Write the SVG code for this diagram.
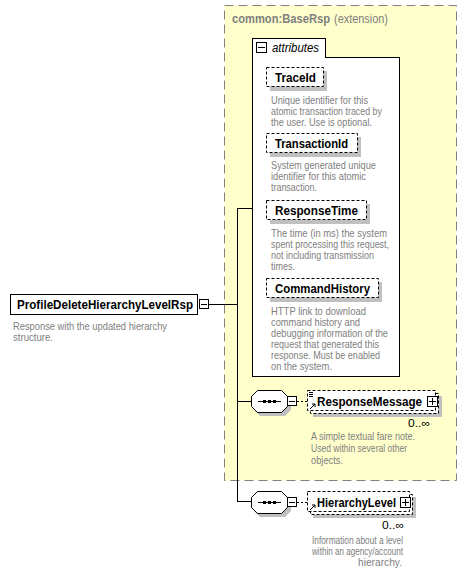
<svg xmlns="http://www.w3.org/2000/svg" width="466" height="573" viewBox="0 0 466 573">
<style>
text{font-family:"Liberation Sans",Arial,sans-serif}
.d{font-size:11px;fill:#808080}
.n{font-size:12px;font-weight:bold;fill:#000}
.ln{stroke:#000;stroke-width:1;fill:none}
.att{fill:#fff;stroke:#000;stroke-dasharray:3,2}
.sh{fill:#c0c0c0}
.pm{fill:#fff;stroke:#000}
</style>
<rect width="466" height="573" fill="#fff"/>
<g id="base">
<rect x="224.5" y="5.5" width="232" height="475" fill="#ffffcc" stroke="#808080" stroke-dasharray="9,5"/>
<text x="232" y="23" style="font-size:12px;fill:#808080"><tspan font-weight="bold" textLength="98" lengthAdjust="spacingAndGlyphs">common:BaseRsp</tspan><tspan x="334" textLength="54" lengthAdjust="spacingAndGlyphs">(extension)</tspan></text>
</g>
<g id="connectors">
<path class="ln" d="M209 304.5H237.5M237.5 208V501.5M237 208.5H252M237 401.5H251M237 501.5H251"/>
<path d="M297 401.5H307M297 502.5H307" stroke="#000" stroke-dasharray="2,2"/>
</g>
<g id="root">
<rect x="10.5" y="294.5" width="187" height="20" fill="#fff" stroke="#000"/>
<text class="n" x="17" y="308.5" textLength="176" lengthAdjust="spacingAndGlyphs">ProfileDeleteHierarchyLevelRsp</text>
<rect class="pm" x="199.5" y="299.5" width="9" height="9"/>
<path class="ln" d="M201 304.5H207"/>
<text class="d" x="13" y="330" textLength="154" lengthAdjust="spacingAndGlyphs">Response with the updated hierarchy</text>
<text class="d" x="13" y="341" textLength="40" lengthAdjust="spacingAndGlyphs">structure.</text>
</g>
<g id="attributes">
<rect x="252.5" y="38.5" width="73" height="19" fill="#fff" stroke="#000"/>
<rect x="252.5" y="57.5" width="147" height="319" fill="#fff" stroke="#000"/>
<rect x="253" y="56" width="72" height="3" fill="#fff"/>
<rect class="pm" x="256.5" y="42.5" width="10" height="10"/>
<path class="ln" d="M258 47.5H265"/>
<text x="272" y="52" style="font-size:12px;font-style:italic" textLength="47" lengthAdjust="spacingAndGlyphs">attributes</text>
</g>
<g id="TraceId">
<rect class="sh" x="270" y="71" width="57" height="20"/>
<rect class="att" x="266.5" y="67.5" width="57" height="19"/>
<text class="n" x="275" y="81.5" textLength="41" lengthAdjust="spacingAndGlyphs">TraceId</text>
<text class="d" x="271" y="104" textLength="97" lengthAdjust="spacingAndGlyphs">Unique identifier for this</text>
<text class="d" x="271" y="115" textLength="111" lengthAdjust="spacingAndGlyphs">atomic transaction traced by</text>
<text class="d" x="271" y="126" textLength="101" lengthAdjust="spacingAndGlyphs">the user. Use is optional.</text>
</g>
<g id="TransactionId">
<rect class="sh" x="270" y="137" width="91" height="20"/>
<rect class="att" x="266.5" y="133.5" width="91" height="19"/>
<text class="n" x="275" y="147.5" textLength="73" lengthAdjust="spacingAndGlyphs">TransactionId</text>
<text class="d" x="271" y="169" textLength="105" lengthAdjust="spacingAndGlyphs">System generated unique</text>
<text class="d" x="271" y="180" textLength="95" lengthAdjust="spacingAndGlyphs">identifier for this atomic</text>
<text class="d" x="271" y="191" textLength="46" lengthAdjust="spacingAndGlyphs">transaction.</text>
</g>
<g id="ResponseTime">
<rect class="sh" x="270" y="204" width="100" height="20"/>
<rect class="att" x="266.5" y="200.5" width="100" height="19"/>
<text class="n" x="275" y="214.5" textLength="83" lengthAdjust="spacingAndGlyphs">ResponseTime</text>
<text class="d" x="271" y="237" textLength="116" lengthAdjust="spacingAndGlyphs">The time (in ms) the system</text>
<text class="d" x="271" y="248" textLength="118" lengthAdjust="spacingAndGlyphs">spent processing this request,</text>
<text class="d" x="271" y="259" textLength="103" lengthAdjust="spacingAndGlyphs">not including transmission</text>
<text class="d" x="271" y="270" textLength="24" lengthAdjust="spacingAndGlyphs">times.</text>
</g>
<g id="CommandHistory">
<rect class="sh" x="270" y="282" width="112" height="20"/>
<rect class="att" x="266.5" y="278.5" width="112" height="19"/>
<text class="n" x="275" y="292.5" textLength="95" lengthAdjust="spacingAndGlyphs">CommandHistory</text>
<text class="d" x="271" y="315" textLength="95" lengthAdjust="spacingAndGlyphs">HTTP link to download</text>
<text class="d" x="271" y="326" textLength="89" lengthAdjust="spacingAndGlyphs">command history and</text>
<text class="d" x="271" y="337" textLength="117" lengthAdjust="spacingAndGlyphs">debugging information of the</text>
<text class="d" x="271" y="348" textLength="108" lengthAdjust="spacingAndGlyphs">request that generated this</text>
<text class="d" x="271" y="359" textLength="109" lengthAdjust="spacingAndGlyphs">response. Must be enabled</text>
<text class="d" x="271" y="370" textLength="61" lengthAdjust="spacingAndGlyphs">on the system.</text>
</g>
<g id="seq1">
<polygon class="sh" points="260,394 285,394 291,400 291,410 285,416 260,416 254,410 254,400"/>
<polygon fill="#fff" stroke="#000" points="257.5,390.5 281.5,390.5 287.5,396.5 287.5,406.5 281.5,412.5 257.5,412.5 251.5,406.5 251.5,396.5"/>
<path class="ln" d="M258 401.5H281"/>
<rect x="263" y="400" width="3" height="3"/><rect x="268" y="400" width="3" height="3"/><rect x="273" y="400" width="3" height="3"/>
<rect class="pm" x="287.5" y="396.5" width="9" height="9"/>
<path class="ln" d="M289 401.5H295"/>
</g>
<g id="ResponseMessage">
<rect class="sh" x="313" y="396" width="129" height="21"/>
<rect class="att" x="310.5" y="393.5" width="128" height="20"/>
<rect class="att" x="307.5" y="390.5" width="128" height="20"/>
<path class="ln" d="M309 392.5h4M309 394.5h4M309 396.5h4"/>
<path class="ln" d="M310 409l5-5M312 404h3v3"/>
<text class="n" x="317" y="405.5" textLength="105" lengthAdjust="spacingAndGlyphs">ResponseMessage</text>
<rect class="pm" x="427.5" y="396.5" width="10" height="10"/>
<path class="ln" d="M429 401.5H436M432.5 398V405"/>
<text x="408" y="427" style="font-size:11px" textLength="22" lengthAdjust="spacingAndGlyphs">0..∞</text>
<text class="d" x="311" y="440" textLength="104" lengthAdjust="spacingAndGlyphs">A simple textual fare note.</text>
<text class="d" x="311" y="452" textLength="96" lengthAdjust="spacingAndGlyphs">Used within several other</text>
<text class="d" x="311" y="464" textLength="32" lengthAdjust="spacingAndGlyphs">objects.</text>
</g>
<g id="seq2">
<polygon class="sh" points="260,495 285,495 291,501 291,511 285,517 260,517 254,511 254,501"/>
<polygon fill="#fff" stroke="#000" points="257.5,491.5 281.5,491.5 287.5,497.5 287.5,507.5 281.5,513.5 257.5,513.5 251.5,507.5 251.5,497.5"/>
<path class="ln" d="M258 502.5H281"/>
<rect x="263" y="501" width="3" height="3"/><rect x="268" y="501" width="3" height="3"/><rect x="273" y="501" width="3" height="3"/>
<rect class="pm" x="287.5" y="497.5" width="9" height="9"/>
<path class="ln" d="M289 502.5H295"/>
</g>
<g id="HierarchyLevel">
<rect class="sh" x="313" y="497" width="103" height="21"/>
<rect class="att" x="310.5" y="494.5" width="102" height="20"/>
<rect class="att" x="307.5" y="491.5" width="102" height="20"/>
<path class="ln" d="M310 510l5-5M312 505h3v3"/>
<text class="n" x="317" y="506.5" textLength="79" lengthAdjust="spacingAndGlyphs">HierarchyLevel</text>
<rect class="pm" x="400.5" y="497.5" width="10" height="10"/>
<path class="ln" d="M402 502.5H409M405.5 499V506"/>
<text x="382" y="529" style="font-size:11px" textLength="22" lengthAdjust="spacingAndGlyphs">0..∞</text>
<text class="d" x="312" y="544" textLength="91" lengthAdjust="spacingAndGlyphs">Information about a level</text>
<text class="d" x="312" y="555" textLength="91" lengthAdjust="spacingAndGlyphs">within an agency/account</text>
<text class="d" x="358" y="566" textLength="44" lengthAdjust="spacingAndGlyphs">hierarchy.</text>
</g>
</svg>
